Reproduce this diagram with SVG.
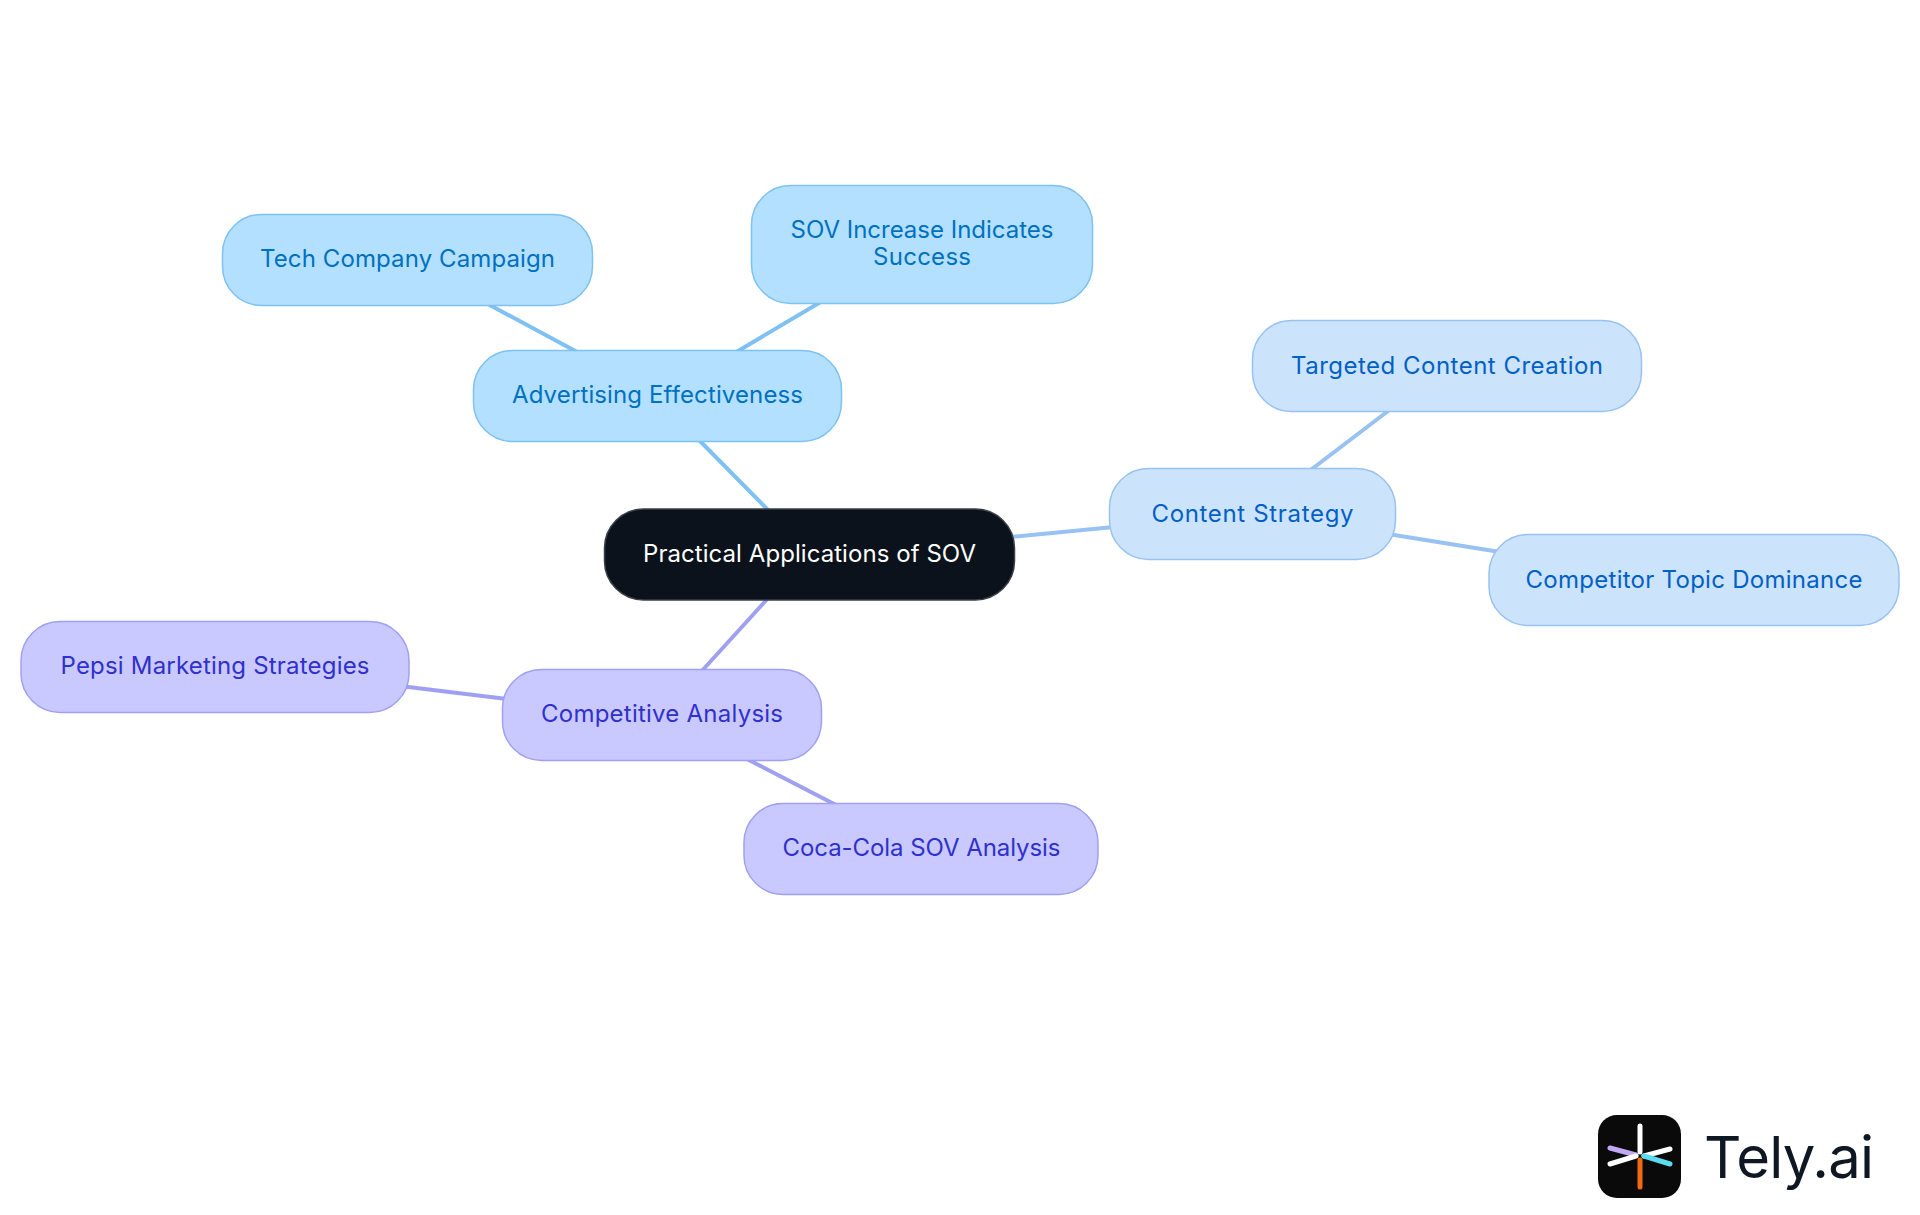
<svg xmlns="http://www.w3.org/2000/svg" width="1920" height="1215" viewBox="0 0 1920 1215">
<style>
text{font-family:"Inter","Noto Sans","Liberation Sans",sans-serif;font-size:24px;font-weight:400;text-anchor:middle}
.n{stroke-width:1.5}
.e{fill:none;stroke-width:4}
.a rect{fill:#b3e0ff;stroke:#7ec1f2}.a text{fill:#0070c0}
.c rect{fill:#cce3fc;stroke:#98c2f2}.c text{fill:#0060c6}
.p rect{fill:#c9c9ff;stroke:#a0a0f2}.p text{fill:#3030cc}
.ea{stroke:#7ec1f2}.ec{stroke:#98c2f2}.ep{stroke:#a0a0f2}
</style>
<rect width="1920" height="1215" fill="#fff"/>
<g id="connectors">
<line class="e ea" x1="770" y1="512" x2="697" y2="438"/>
<line class="e ea" x1="579" y1="353" x2="486" y2="303"/>
<line class="e ea" x1="733" y1="354" x2="824" y2="300"/>
<line class="e ec" x1="1010" y1="537" x2="1114" y2="527"/>
<line class="e ec" x1="1308" y1="472" x2="1392" y2="408"/>
<line class="e ec" x1="1388" y1="534" x2="1500" y2="552"/>
<line class="e ep" x1="770" y1="596" x2="700" y2="673"/>
<line class="e ep" x1="400" y1="686" x2="507" y2="699"/>
<line class="e ep" x1="745" y1="758" x2="838" y2="806"/>
</g>
<g id="root"><rect class="n" x="604.500" y="509" width="410" height="91" rx="39" fill="#0c121b" stroke="#3b4048"/><text x="809.500" y="562" fill="#fff" textLength="333">Practical Applications of SOV</text></g>
<g id="advertising" class="a"><rect class="n" x="473.500" y="350.500" width="368" height="91" rx="39"/><text x="657.500" y="403" textLength="291">Advertising Effectiveness</text></g>
<g id="tech" class="a"><rect class="n" x="222.500" y="214.500" width="370" height="91" rx="39"/><text x="407.500" y="267" textLength="295">Tech Company Campaign</text></g>
<g id="sov" class="a"><rect class="n" x="751.500" y="185.500" width="341" height="118" rx="39"/><text x="922" y="238" textLength="263">SOV Increase Indicates</text><text x="922" y="265" textLength="98">Success</text></g>
<g id="content" class="c"><rect class="n" x="1109.500" y="468.500" width="286" height="91" rx="39"/><text x="1252.500" y="522" textLength="202">Content Strategy</text></g>
<g id="targeted" class="c"><rect class="n" x="1252.500" y="320.500" width="389" height="91" rx="39"/><text x="1447" y="374" textLength="312">Targeted Content Creation</text></g>
<g id="competitor" class="c"><rect class="n" x="1489" y="534.500" width="410" height="91" rx="39"/><text x="1694" y="588" textLength="337">Competitor Topic Dominance</text></g>
<g id="competitive" class="p"><rect class="n" x="502.500" y="669.500" width="319" height="91" rx="39"/><text x="662" y="722" textLength="242">Competitive Analysis</text></g>
<g id="pepsi" class="p"><rect class="n" x="21" y="621.500" width="388" height="91" rx="39"/><text x="215" y="674" textLength="309">Pepsi Marketing Strategies</text></g>
<g id="coca" class="p"><rect class="n" x="744" y="803.500" width="354" height="91" rx="39"/><text x="921.500" y="856" textLength="278">Coca-Cola SOV Analysis</text></g>
<g id="logo">
<rect x="1598" y="1115" width="83" height="83" rx="19" fill="#0a0a0a"/>
<g fill="none" stroke-width="5" stroke-linecap="round">
<line x1="1640" y1="1126" x2="1640" y2="1152" stroke="#fff"/>
<line x1="1640" y1="1160" x2="1640" y2="1187" stroke="#f26a10"/>
<line x1="1610" y1="1148" x2="1636" y2="1155" stroke="#c0a8f5"/>
<line x1="1610" y1="1164" x2="1636" y2="1156" stroke="#fff"/>
<line x1="1670" y1="1149" x2="1644" y2="1156" stroke="#fff"/>
<line x1="1670" y1="1164" x2="1644" y2="1156" stroke="#5cdcf0"/>
</g>
<text x="1704" y="1178" style="text-anchor:start;font-size:58px;font-weight:400" textLength="170" fill="#0f1722">Tely.ai</text>
</g>
</svg>
